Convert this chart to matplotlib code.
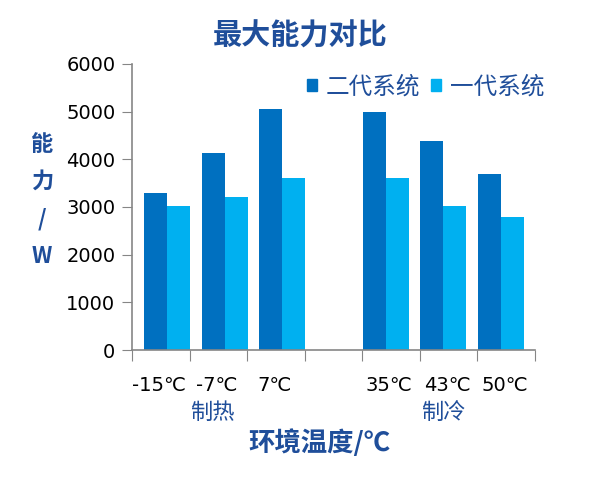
import numpy as np
import matplotlib
matplotlib.use("Agg")
import matplotlib.pyplot as plt
from matplotlib.patches import Patch

### données
categories = ['-15℃', '-7℃', '7℃', '', '35℃', '43℃', '50℃']
gen2 = [3300, 4130, 5050, np.nan, 5000, 4380, 3700]
gen1 = [3020, 3200, 3600, np.nan, 3600, 3020, 2790]
groups = ['制热', '制冷']
group_pos = [0.9, 4.9]

cjk = ['Noto Sans CJK SC', 'DejaVu Sans']
c_dark = '#0070C0'
c_light = '#00B0F0'
c_text = '#1F4E9A'
c_axis = '#868686'

fig = plt.figure(figsize=(5.94, 4.8), dpi=100)
ax = fig.add_axes([0.2222, 0.2708, 0.6785, 0.5959])

x = np.arange(len(categories))
# les paires de barres sont décalées dans l'original (à droite pour le chaud, à gauche pour le froid)
shift = np.where(x < 3, 0.11, -0.095)
w = 0.4
ax.bar(x + shift - w / 2, gen2, w, color=c_dark)
ax.bar(x + shift + w / 2, gen1, w, color=c_light)

ax.set_xlim(-0.5, len(categories) - 0.5)
ax.set_ylim(0, 6000)
ax.set_yticks(range(0, 6001, 1000))

# ticks aux frontières des catégories, étiquettes au centre
ax.set_xticks(np.arange(-0.5, len(categories), 1.0))
ax.set_xticklabels([])
ax.set_xticks(x - 0.03, minor=True)
ax.set_xticklabels(categories, minor=True, fontsize=14, family='DejaVu Sans')
ax.tick_params(axis='x', which='major', length=8, color=c_axis, direction='out')
ax.tick_params(axis='x', which='minor', length=0, pad=19)
ax.tick_params(axis='y', length=7, color=c_axis, direction='out', pad=5, labelsize=14)

for s in ['top', 'right']:
    ax.spines[s].set_visible(False)
for s in ['left', 'bottom']:
    ax.spines[s].set_color(c_axis)
    ax.spines[s].set_linewidth(1.2)

for gp, g in zip(group_pos, groups):
    ax.text(gp, -0.217, g, transform=ax.get_xaxis_transform(), ha='center', va='center',
            fontsize=16, color=c_text, family=cjk)

fig.text(0.537, 0.077, '环境温度/℃', ha='center', va='center', fontsize=19,
         fontweight='bold', color=c_text, family=cjk)
fig.text(0.0707, 0.583, '能\n力\n/\nW', ha='center', va='center', fontsize=16,
         fontweight='bold', color=c_text, family=cjk, linespacing=1.8)
fig.text(0.505, 0.925, '最大能力对比', ha='center', va='center', fontsize=21,
         fontweight='bold', color=c_text, family=cjk)

handles = [Patch(color=c_dark), Patch(color=c_light)]
leg = fig.legend(handles, ['二代系统', '一代系统'], loc='center right', ncol=2, frameon=False,
                 bbox_to_anchor=(0.936, 0.819), borderpad=0, handlelength=0.45, handleheight=0.45,
                 handletextpad=0.35, columnspacing=0.45, prop={'family': cjk, 'size': 17})
for t in leg.get_texts():
    t.set_color(c_text)

fig.savefig('out.png', dpi=100)
